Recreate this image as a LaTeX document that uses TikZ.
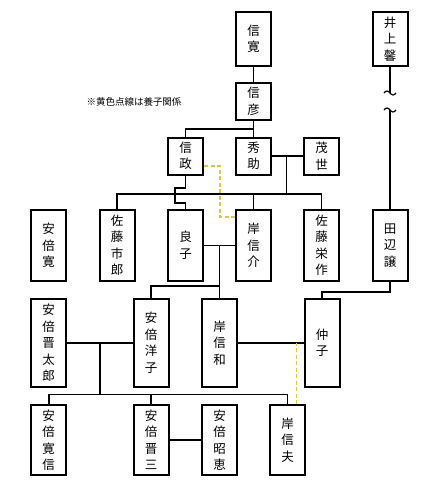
\documentclass[tikz,border=0pt]{standalone}
\usepackage{fontspec}
\setmainfont{Noto Sans CJK JP}
\definecolor{adoptyellow}{RGB}{228,196,64}
\begin{document}
\begin{tikzpicture}[x=1pt,y=-1pt,
  box/.style={draw=black,line width=2pt,fill=white,minimum width=35pt,inner sep=0pt,
    align=center,font=\fontsize{12.5}{16.5}\selectfont},
  tall/.style={minimum height=54pt},
  short/.style={minimum height=37pt},
  rowc/.style={minimum height=71pt},
  rowd/.style={minimum height=88pt},
  rowe/.style={minimum height=70pt},
  link/.style={draw=black,line width=1.8pt},
  adopt/.style={draw=adoptyellow,line width=1.7pt,dashed,dash pattern=on 4pt off 2.5pt},
  wave/.style={draw=black,line width=1.2pt},
  note/.style={font=\fontsize{9.5}{11}\selectfont}
]
\useasboundingbox[fill=white] (0,0) rectangle (437,480);

% row 1
\node[box,tall] (nobuhiro) at (253.5,39) {信\\寛};
\node[box,tall] (inoue) at (390,39) {井\\上\\馨};
% row 2
\node[box,short] (nobuhiko) at (253.5,101.5) {信\\彦};
\node[note] (legend) at (134,101.5) {※黄色点線は養子関係};
% row 2b
\node[box,short] (nobumasa) at (185.5,156) {信\\政};
\node[box,short] (hidesuke) at (253.5,156) {秀\\助};
\node[box,short] (moyo) at (321.5,156) {茂\\世};
% row 3
\node[box,rowc] (hiroshi) at (48.7,245.5) {安\\倍\\寛};
\node[box,rowc] (ichiro) at (117,245.5) {佐\\藤\\市\\郎};
\node[box,rowc] (ryoko) at (185.5,245.5) {良\\子};
\node[box,rowc] (shinsuke) at (253.5,245.5) {岸\\信\\介};
\node[box,rowc] (eisaku) at (321.5,245.5) {佐\\藤\\栄\\作};
\node[box,rowc] (tanabe) at (390,245.5) {田\\辺\\譲};
% row 4
\node[box,rowd] (shintaro) at (48.7,343) {安\\倍\\晋\\太\\郎};
\node[box,rowd] (yoko) at (151,343) {安\\倍\\洋\\子};
\node[box,rowd] (nobukazu) at (219.5,343) {岸\\信\\和};
\node[box,rowd] (nakako) at (322,343) {仲\\子};
% row 5
\node[box,rowe] (hironobu) at (48.7,440) {安\\倍\\寛\\信};
\node[box,rowe] (shinzo) at (151,440) {安\\倍\\晋\\三};
\node[box,rowe] (akie) at (219.5,440) {安\\倍\\昭\\恵};
\node[box,rowe] (nobuo) at (287.5,440) {岸\\信\\夫};

% connectors
\draw[link] (nobuhiro.south) -- (nobuhiko.north);
\draw[link] (nobuhiko.south) -- (hidesuke.north);
\coordinate (j1) at (253.5,129);
\draw[link] (nobumasa.north) |- (j1);

% Nobumasa -> Ryoko (with jog)
\draw[link] (nobumasa.south) -- ++(0,12.5) -- ++(-10.5,0) -- ++(0,15) -- ++(10.5,0) -- (ryoko.north);

% Hidesuke x Moyo
\draw[link] (hidesuke.east) -- (moyo.west) coordinate[pos=0.47] (m1);
\draw[link] (ichiro.north) -- ++(0,-15) coordinate (s1) -| (eisaku.north);
\draw[link] (m1) -- (m1 |- s1);
\draw[link] (shinsuke.north) -- (shinsuke.north |- s1);

% adoption Nobumasa -> Shinsuke
\draw[adopt] ([yshift=-10pt]nobumasa.east) -- ++(16,0) |- ([yshift=28.5pt]shinsuke.west);

% Inoue -> Tanabe with break marks
\coordinate (t1) at (390,93);
\coordinate (t2) at (390,110);
\draw[link] (inoue.south) -- (t1);
\draw[link] (t2) -- (tanabe.north);
\draw[wave] ([xshift=-6pt]t1) sin ++(3,-2) cos ++(3,2) sin ++(3,2) cos ++(3,-2);
\draw[wave] ([xshift=-6pt]t2) sin ++(3,-2) cos ++(3,2) sin ++(3,2) cos ++(3,-2);

% Ryoko x Shinsuke
\draw[link] (ryoko.east) -- (shinsuke.west) coordinate[midway] (m2);
\draw[link] (yoko.north) -- ++(0,-11.7) coordinate (s2) -| (nobukazu.north);
\draw[link] (m2) -- (m2 |- s2);

% Tanabe -> Nakako
\draw[link] (tanabe.south) -- ++(0,10) -| (nakako.north);

% Shintaro x Yoko
\draw[link] (shintaro.east) -- (yoko.west) coordinate[midway] (m3);
\draw[link] (hironobu.north) -- ++(0,-9.5) coordinate (s3) -| (nobuo.north);
\draw[link] (m3) -- (m3 |- s3);
\draw[link] (shinzo.north) -- (shinzo.north |- s3);

% Nobukazu x Nakako
\draw[link] (nobukazu.east) -- (nakako.west);
\coordinate (nb) at ([xshift=9pt]nobuo.north);
\draw[adopt] (nb) -- (nb |- nakako.west);

% Shinzo x Akie
\draw[link] (shinzo.east) -- (akie.west);
\end{tikzpicture}
\end{document}
